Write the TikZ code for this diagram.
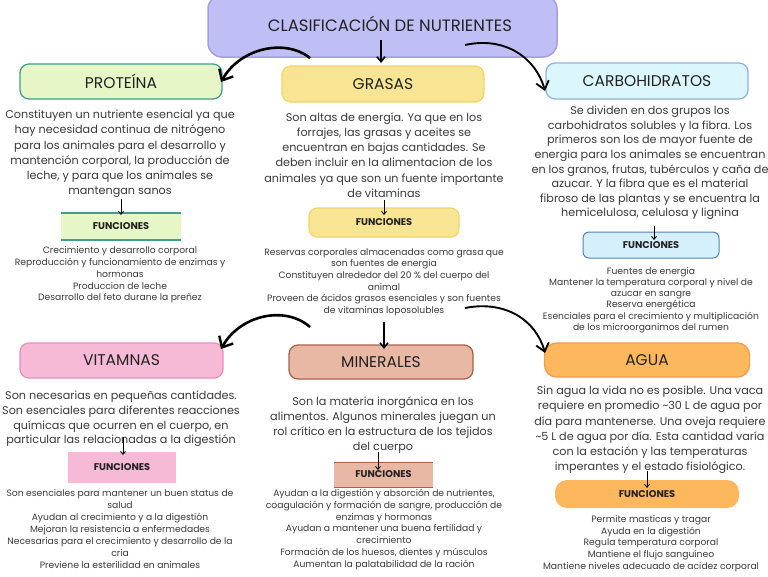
\documentclass[tikz,border=0pt]{standalone}
\usepackage{fontspec}
\setmainfont{Poppins}
\usetikzlibrary{arrows.meta}
\definecolor{txt}{HTML}{3A3A3A}
\definecolor{ttl}{HTML}{222222}
\definecolor{titf}{HTML}{BFBFF5}\definecolor{titd}{HTML}{A0A0EA}
\definecolor{prof}{HTML}{E6F6C6}\definecolor{prod}{HTML}{3F9E8C}
\definecolor{graf}{HTML}{F8E593}\definecolor{grad}{HTML}{F3D36A}
\definecolor{carf}{HTML}{DCF6FE}\definecolor{card}{HTML}{93B3DA}
\definecolor{carff}{HTML}{D6F0FB}\definecolor{carfd}{HTML}{4F82B8}
\definecolor{vitf}{HTML}{F6B9D6}\definecolor{vitd}{HTML}{EE8CBC}
\definecolor{minf}{HTML}{E8B8A5}\definecolor{mind}{HTML}{A9634C}
\definecolor{aguf}{HTML}{FDB75C}\definecolor{agud}{HTML}{F79A4C}
\begin{document}
\begin{tikzpicture}[x=1pt,y=-1pt,
  bigbox/.style={draw, line width=1.3pt, rounded corners=9pt, minimum width=202pt, minimum height=35pt, inner sep=0pt, text=ttl, font=\fontsize{15.5}{18}\selectfont},
  funbox/.style={inner sep=0pt, text=ttl, font=\fontsize{9.8}{11}\selectfont\bfseries},
  body/.style={align=center, inner sep=0pt, text=txt, font=\fontsize{11.2}{15.2}\selectfont},
  list/.style={align=center, inner sep=0pt, text=txt, font=\fontsize{9.2}{11.7}\selectfont},
  bigarrow/.style={line width=2.6pt, -{Straight Barb[length=9pt,width=16pt,line width=2.4pt]}},
  midarrow/.style={line width=1.9pt, -{Straight Barb[length=8pt,width=13pt,line width=1.8pt]}},
  downarrow/.style={line width=1.8pt, -{Straight Barb[length=5pt,width=8pt,line width=1.6pt]}},
  smallarrow/.style={line width=0.9pt, -{Straight Barb[length=3pt,width=5pt,line width=0.9pt]}}
]
\useasboundingbox (0,0) rectangle (768,576);

% title
\node[draw=titd, fill=titf, line width=1.5pt, rounded corners=14pt, minimum width=349pt, minimum height=62pt, inner sep=0pt] (title) at (382.5,26) {};
\node[text=ttl, font=\fontsize{16.5}{19}\selectfont, inner sep=0pt] (titletext) at (390,24) {CLASIFICACIÓN DE NUTRIENTES};

% main boxes
\node[bigbox, draw=prod, fill=prof] (prot) at (121,81.5) {PROTEÍNA};
\node[bigbox, draw=grad, fill=graf, minimum height=36pt] (gras) at (383,84) {GRASAS};
\node[bigbox, draw=card, fill=carf, minimum height=36pt] (carb) at (647,81) {CARBOHIDRATOS};
\node[bigbox, draw=vitd, fill=vitf, minimum width=203pt] (vit) at (121.5,360.5) {VITAMNAS};
\node[bigbox, draw=mind, fill=minf, minimum width=184pt, minimum height=34pt] (mine) at (381,362) {MINERALES};
\node[bigbox, draw=agud, fill=aguf, minimum width=205pt, minimum height=34pt, rounded corners=12pt] (agua) at (647,360) {AGUA};

% bodies
\node[body] (protb) at (120,154) {Constituyen un nutriente esencial ya que\\hay necesidad continua de nitrógeno\\para los animales para el desarrollo y\\mantención corporal, la producción de\\leche, y para que los animales se\\mantengan sanos};
\node[body] (grasb) at (384,155) {Son altas de energía. Ya que en los\\forrajes, las grasas y aceites se\\encuentran en bajas cantidades. Se\\deben incluir en la alimentacion de los\\animales ya que son un fuente importante\\de vitaminas};
\node[body, font=\fontsize{11.2}{14.6}\selectfont] (carbb) at (650,163) {Se dividen en dos grupos los\\carbohidratos solubles y la fibra. Los\\primeros son los de mayor fuente de\\energia para los animales se encuentran\\en los granos, frutas, tubérculos y caña de\\azucar. Y la fibra que es el material\\fibroso de las plantas y se encuentra la\\hemicelulosa, celulosa y lignina};
\node[body, font=\fontsize{11.2}{14.8}\selectfont] (vitb) at (121,419) {Son necesarias en pequeñas cantidades.\\Son esenciales para diferentes reacciones\\químicas que ocurren en el cuerpo, en\\particular las relacionadas a la digestión};
\node[body, font=\fontsize{11.2}{14.8}\selectfont] (mineb) at (383,425) {Son la materia inorgánica en los\\alimentos. Algunos minerales juegan un\\rol crítico en la estructura de los tejidos\\del cuerpo};
\node[body, font=\fontsize{11.2}{15.2}\selectfont] (aguab) at (650,430) {Sin agua la vida no es posible. Una vaca\\requiere en promedio \char`~30 L de agua por\\día para mantenerse. Una oveja requiere\\\char`~5 L de agua por día. Esta cantidad varía\\con la estación y las temperaturas\\imperantes y el estado fisiológico.};

% FUNCIONES boxes
\fill[prof] (61,213) rectangle (181,240);
\draw[prod, line width=1.1pt] (61,213) -- (181,213) (61,240) -- (181,240);
\node[funbox] (protf) at (121,226.5) {FUNCIONES};
\node[funbox, draw=grad, fill=graf, line width=1.1pt, rounded corners=8pt, minimum width=150pt, minimum height=29pt] (grasf) at (384,222.5) {FUNCIONES};
\node[funbox, draw=carfd, fill=carff, line width=1pt, rounded corners=6pt, minimum width=136pt, minimum height=26pt] (carbf) at (651,245) {FUNCIONES};
\node[funbox, fill=vitf, minimum width=108pt, minimum height=31pt] (vitf) at (122,467.5) {FUNCIONES};
\fill[minf] (334,462) rectangle (433,487);
\draw[mind, line width=1pt] (334,462) -- (433,462) (334,487) -- (433,487);
\node[funbox] (minef) at (383.5,474.5) {FUNCIONES};
\node[funbox, fill=aguf, rounded corners=12pt, minimum width=184pt, minimum height=28pt] (aguaf) at (647,494) {FUNCIONES};

% lists
\node[list] (protl) at (120,275) {Crecimiento y desarrollo corporal\\Reproducción y funcionamiento de enzimas y\\hormonas\\Produccion de leche\\Desarrollo del feto durane la preñez};
\node[list, font=\fontsize{9.2}{11.6}\selectfont] (grasl) at (384,282) {Reservas corporales almacenadas como grasa que\\son fuentes de energia\\Constituyen alrededor del 20 \% del cuerpo del\\animal\\Proveen de ácidos grasos esenciales y son fuentes\\de vitaminas loposolubles};
\node[list, font=\fontsize{9.2}{11.2}\selectfont] (carbl) at (651,300) {Fuentes de energia\\Mantener la temperatura corporal y nivel de\\azucar en sangre\\Reserva energética\\Esenciales para el crecimiento y multiplicación\\de los microorganimos del rumen};
\node[list, font=\fontsize{9.2}{12}\selectfont] (vitl) at (120,529) {Son esenciales para mantener un buen status de\\salud\\Ayudan al crecimiento y a la digestión\\Mejoran la resistencia a enfermedades\\Necesarias para el crecimiento y desarrollo de la\\cria\\Previene la esterilidad en animales};
\node[list, font=\fontsize{9.2}{11.9}\selectfont] (minel) at (384,529.5) {Ayudan a la digestión y absorción de nutrientes,\\coagulación y formación de sangre, producción de\\enzimas y hormonas\\Ayudan a mantener una buena fertilidad y\\crecimiento\\Formación de los huesos, dientes y músculos\\Aumentan la palatabilidad de la ración};
\node[list, font=\fontsize{9.2}{11.8}\selectfont] (agual) at (651,543.5) {Permite masticas y tragar\\Ayuda en la digestión\\Regula temperatura corporal\\Mantiene el flujo sanguíneo\\Mantiene niveles adecuado de acidez corporal};

% big curved arrows
\coordinate (a1s) at (310,58);
\coordinate (a1e) at (221,82);
\coordinate (a3s) at (465,45);
\coordinate (a3e) at (545,91);
\coordinate (a4s) at (310,327);
\coordinate (a4e) at (221,349);
\coordinate (a6s) at (465,308);
\coordinate (a6e) at (545,353);
\draw[bigarrow] (a1s) .. controls (285,38) and (240,48) .. (a1e);
\draw[midarrow] (a3s) .. controls (505,36) and (536,58) .. (a3e);
\draw[bigarrow] (a4s) .. controls (285,305) and (240,315) .. (a4e);
\draw[midarrow] (a6s) .. controls (505,300) and (536,320) .. (a6e);

% straight arrows
\coordinate (a2s) at (381,40);
\coordinate (a5s) at (384,322);
\draw[downarrow] (a2s) -- (381,63);
\draw[downarrow] (a5s) -- (384,349);

% small arrows to FUNCIONES
\draw[smallarrow] (121,199) -- (121,215);
\draw[smallarrow] (384,200) -- (384,215);
\draw[smallarrow] (654,226) -- (654,240);
\draw[smallarrow] (123,437) -- (123,455);
\draw[smallarrow] (378,452) -- (378,470);
\draw[smallarrow] (647,471) -- (647,488);
\end{tikzpicture}
\end{document}
